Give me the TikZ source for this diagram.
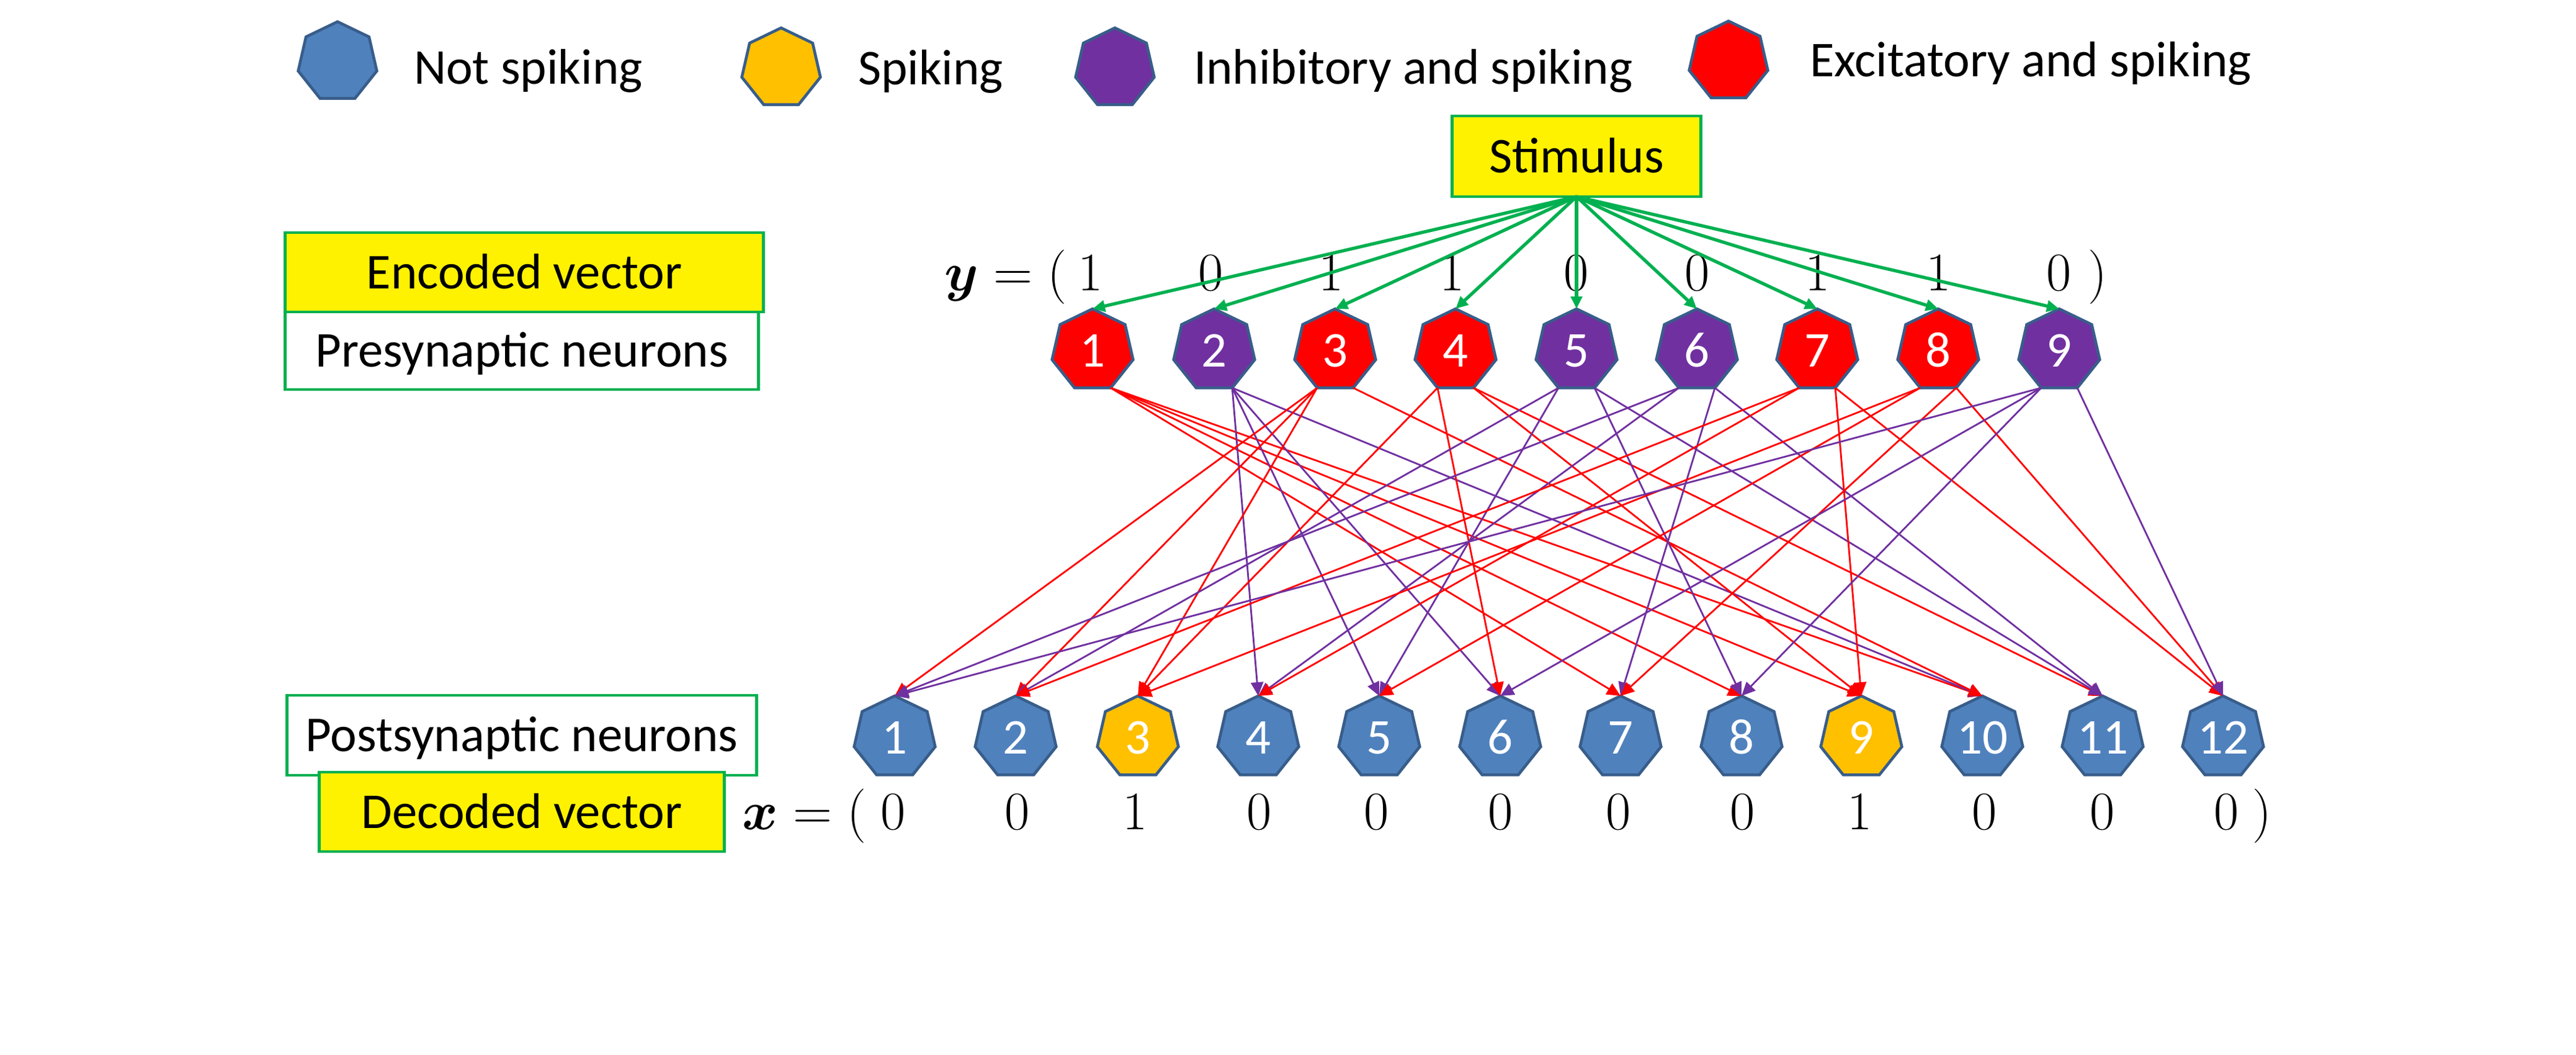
\documentclass[tikz,border=0pt]{standalone}
\usepackage{bm}
\usepackage[no-math]{fontspec}
\setmainfont{Carlito}
\usepackage{tikz}
\usetikzlibrary{shapes.geometric,arrows.meta}
\definecolor{nblue}{HTML}{4F81BD}
\definecolor{nline}{HTML}{385D8A}
\definecolor{nyellow}{HTML}{FFC000}
\definecolor{npurple}{HTML}{7030A0}
\definecolor{nred}{HTML}{FF0000}
\definecolor{bgreen}{HTML}{00B050}

\begin{document}
\begin{tikzpicture}[every node/.style={outer sep=0pt, inner sep=0pt, font=\fontsize{23}{27}\selectfont},
  neuron/.style={regular polygon, regular polygon sides=7, minimum size=1.34cm, draw=nline, line width=1.3pt, text=white, text height=0.52cm, text depth=0pt},
  labelbox/.style={draw=bgreen, line width=1.4pt, text height=0.52cm, text depth=0pt},
  vec/.style={font=\fontsize{24}{28}\selectfont, anchor=base},
  syn/.style={line width=0.8pt, -{Triangle[length=0.22cm,width=0.2cm]}},
  drive/.style={bgreen, line width=1.5pt, -{Triangle[length=0.2cm,width=0.18cm]}}]
\useasboundingbox (0,0) rectangle (41.52,-17);

\node[neuron, fill=nblue, minimum size=1.30cm] (lnot) at (5.44,-1.00) {};
\node[anchor=base west] (tnot) at (6.67,-1.35) {Not spiking};
\node[neuron, fill=nyellow, minimum size=1.30cm] (lspike) at (12.59,-1.10) {};
\node[anchor=base west] (tspike) at (13.83,-1.36) {Spiking};
\node[neuron, fill=npurple, minimum size=1.30cm] (linh) at (17.97,-1.10) {};
\node[anchor=base west] (tinh) at (19.24,-1.35) {Inhibitory and spiking};
\node[neuron, fill=nred, minimum size=1.30cm] (lexc) at (27.86,-0.99) {};
\node[anchor=base west] (texc) at (29.17,-1.23) {Excitatory and spiking};

\node[labelbox, fill=yellow, minimum width=4.01cm, minimum height=1.30cm] (stim) at (25.41,-2.52) {Stimulus};

\node[labelbox, fill=yellow, minimum width=7.71cm, minimum height=1.28cm] (enc) at (8.45,-4.39) {Encoded vector};
\node[labelbox, fill=white, minimum width=7.63cm, minimum height=1.25cm] (prelab) at (8.41,-5.655) {Presynaptic neurons};
\node[labelbox, fill=white, minimum width=7.57cm, minimum height=1.29cm] (postlab) at (8.41,-11.855) {Postsynaptic neurons};
\node[labelbox, fill=yellow, minimum width=6.53cm, minimum height=1.28cm] (dec) at (8.41,-13.09) {Decoded vector};

\node[vec, anchor=base east] (ylab) at (17.20,-4.68) {$\bm{y}=($};
\node[vec] (y1) at (17.58,-4.68) {$1$};
\node[vec] (y2) at (19.52,-4.68) {$0$};
\node[vec] (y3) at (21.46,-4.68) {$1$};
\node[vec] (y4) at (23.41,-4.68) {$1$};
\node[vec] (y5) at (25.41,-4.68) {$0$};
\node[vec] (y6) at (27.36,-4.68) {$0$};
\node[vec] (y7) at (29.30,-4.68) {$1$};
\node[vec] (y8) at (31.24,-4.68) {$1$};
\node[vec] (y9) at (33.18,-4.68) {$0$};
\node[vec, anchor=base west] (yend) at (33.65,-4.68) {$)$};

\node[neuron, fill=nred] (pre1) at (17.61,-5.65) {1};
\node[neuron, fill=npurple] (pre2) at (19.57,-5.65) {2};
\node[neuron, fill=nred] (pre3) at (21.52,-5.65) {3};
\node[neuron, fill=nred] (pre4) at (23.46,-5.65) {4};
\node[neuron, fill=npurple] (pre5) at (25.41,-5.65) {5};
\node[neuron, fill=npurple] (pre6) at (27.35,-5.65) {6};
\node[neuron, fill=nred] (pre7) at (29.29,-5.65) {7};
\node[neuron, fill=nred] (pre8) at (31.24,-5.65) {8};
\node[neuron, fill=npurple] (pre9) at (33.19,-5.65) {9};

\node[neuron, fill=nblue] (post1) at (14.42,-11.89) {1};
\node[neuron, fill=nblue] (post2) at (16.37,-11.89) {2};
\node[neuron, fill=nyellow] (post3) at (18.34,-11.89) {3};
\node[neuron, fill=nblue] (post4) at (20.28,-11.89) {4};
\node[neuron, fill=nblue] (post5) at (22.23,-11.89) {5};
\node[neuron, fill=nblue] (post6) at (24.18,-11.89) {6};
\node[neuron, fill=nblue] (post7) at (26.12,-11.89) {7};
\node[neuron, fill=nblue] (post8) at (28.07,-11.89) {8};
\node[neuron, fill=nyellow] (post9) at (30.00,-11.89) {9};
\node[neuron, fill=nblue] (post10) at (31.95,-11.89) {10};
\node[neuron, fill=nblue] (post11) at (33.89,-11.89) {11};
\node[neuron, fill=nblue] (post12) at (35.83,-11.89) {12};

\node[vec, anchor=base east] (xlab) at (13.97,-13.37) {$\bm{x}=($};
\node[vec] (x1) at (14.40,-13.37) {$0$};
\node[vec] (x2) at (16.40,-13.37) {$0$};
\node[vec] (x3) at (18.30,-13.37) {$1$};
\node[vec] (x4) at (20.30,-13.37) {$0$};
\node[vec] (x5) at (22.19,-13.37) {$0$};
\node[vec] (x6) at (24.19,-13.37) {$0$};
\node[vec] (x7) at (26.09,-13.37) {$0$};
\node[vec] (x8) at (28.09,-13.37) {$0$};
\node[vec] (x9) at (29.98,-13.37) {$1$};
\node[vec] (x10) at (31.98,-13.37) {$0$};
\node[vec] (x11) at (33.88,-13.37) {$0$};
\node[vec] (x12) at (35.88,-13.37) {$0$};
\node[vec, anchor=base west] (xend) at (36.30,-13.37) {$)$};

\draw[drive] (stim.south) -- (pre1.corner 1);
\draw[drive] (stim.south) -- (pre2.corner 1);
\draw[drive] (stim.south) -- (pre3.corner 1);
\draw[drive] (stim.south) -- (pre4.corner 1);
\draw[drive] (stim.south) -- (pre5.corner 1);
\draw[drive] (stim.south) -- (pre6.corner 1);
\draw[drive] (stim.south) -- (pre7.corner 1);
\draw[drive] (stim.south) -- (pre8.corner 1);
\draw[drive] (stim.south) -- (pre9.corner 1);

\draw[syn, nred] (pre1.corner 5) -- (post7.corner 1);
\draw[syn, nred] (pre1.corner 5) -- (post8.corner 1);
\draw[syn, nred] (pre1.corner 5) -- (post9.corner 1);
\draw[syn, nred] (pre1.corner 5) -- (post10.corner 1);
\draw[syn, npurple] (pre2.corner 5) -- (post4.corner 1);
\draw[syn, npurple] (pre2.corner 5) -- (post5.corner 1);
\draw[syn, npurple] (pre2.corner 5) -- (post6.corner 1);
\draw[syn, npurple] (pre2.corner 5) -- (post10.corner 1);
\draw[syn, nred] (pre3.corner 4) -- (post1.corner 1);
\draw[syn, nred] (pre3.corner 4) -- (post2.corner 1);
\draw[syn, nred] (pre3.corner 4) -- (post3.corner 1);
\draw[syn, nred] (pre3.corner 5) -- (post10.corner 1);
\draw[syn, nred] (pre4.corner 4) -- (post3.corner 1);
\draw[syn, nred] (pre4.corner 4) -- (post6.corner 1);
\draw[syn, nred] (pre4.corner 5) -- (post9.corner 1);
\draw[syn, nred] (pre4.corner 5) -- (post11.corner 1);
\draw[syn, npurple] (pre5.corner 4) -- (post2.corner 1);
\draw[syn, npurple] (pre5.corner 4) -- (post5.corner 1);
\draw[syn, npurple] (pre5.corner 5) -- (post8.corner 1);
\draw[syn, npurple] (pre5.corner 5) -- (post11.corner 1);
\draw[syn, npurple] (pre6.corner 4) -- (post1.corner 1);
\draw[syn, npurple] (pre6.corner 4) -- (post4.corner 1);
\draw[syn, npurple] (pre6.corner 5) -- (post7.corner 1);
\draw[syn, npurple] (pre6.corner 5) -- (post11.corner 1);
\draw[syn, nred] (pre7.corner 4) -- (post2.corner 1);
\draw[syn, nred] (pre7.corner 4) -- (post4.corner 1);
\draw[syn, nred] (pre7.corner 5) -- (post9.corner 1);
\draw[syn, nred] (pre7.corner 5) -- (post12.corner 1);
\draw[syn, nred] (pre8.corner 4) -- (post3.corner 1);
\draw[syn, nred] (pre8.corner 4) -- (post5.corner 1);
\draw[syn, nred] (pre8.corner 5) -- (post7.corner 1);
\draw[syn, nred] (pre8.corner 5) -- (post12.corner 1);
\draw[syn, npurple] (pre9.corner 4) -- (post1.corner 1);
\draw[syn, npurple] (pre9.corner 4) -- (post6.corner 1);
\draw[syn, npurple] (pre9.corner 4) -- (post8.corner 1);
\draw[syn, npurple] (pre9.corner 5) -- (post12.corner 1);
\end{tikzpicture}
\end{document}
